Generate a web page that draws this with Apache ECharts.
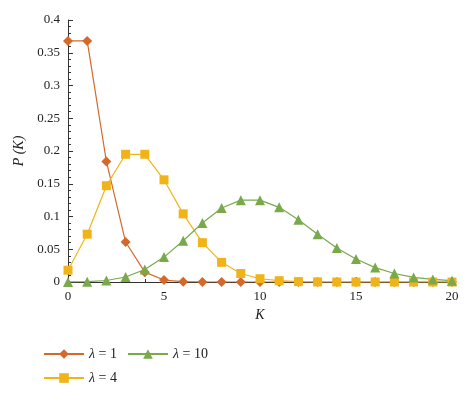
<!DOCTYPE html>
<html><head><meta charset="utf-8">
<script src="https://cdn.jsdelivr.net/npm/echarts@6/dist/echarts.min.js"></script>
<style>body{margin:0}#c{width:474px;height:413px}</style>
</head><body><div id="c"></div>
<script>
var kValues = [0,1,2,3,4,5,6,7,8,9,10,11,12,13,14,15,16,17,18,19,20];
var lambda1 = [0.368,0.368,0.184,0.061,0.015,0.003,0.0005,0.0001,0,0,0,0,0,0,0,0,0,0,0,0,0];
var lambda4 = [0.018,0.073,0.147,0.195,0.195,0.156,0.104,0.060,0.030,0.013,0.005,0.002,0.0006,0.0002,0,0,0,0,0,0,0];
var lambda10 = [0.00005,0.0005,0.0023,0.0076,0.019,0.038,0.063,0.090,0.113,0.125,0.125,0.114,0.095,0.073,0.052,0.035,0.022,0.013,0.007,0.004,0.002];
var seriesNames = ['λ1', 'λ4', 'λ10'];
var legendText = {'λ1': '{i|λ} = 1', 'λ4': '{i|λ} = 4', 'λ10': '{i|λ} = 10'};

function pairs(arr) { return arr.map(function (v, i) { return [kValues[i], v]; }); }
var font = 'Liberation Serif';
var chart = echarts.init(document.getElementById('c'));
chart.setOption({
    animation: false,
    textStyle: { fontFamily: font },
    grid: { left: 68, right: 22, top: 20, bottom: 131 },
    legend: {
        orient: 'vertical', left: 38, top: 342, itemGap: 10, itemWidth: 40, itemHeight: 12,
        data: seriesNames,
        formatter: function (n) { return legendText[n]; },
        textStyle: { fontSize: 14, color: '#222', fontFamily: font, rich: { i: { fontStyle: 'italic', fontSize: 14, fontFamily: font } } }
    },
    xAxis: {
        type: 'value', min: 0, max: 20, interval: 5,
        name: 'K', nameLocation: 'middle', nameGap: 22,
        nameTextStyle: { fontStyle: 'italic', fontSize: 14, color: '#222' },
        axisLine: { onZero: false, lineStyle: { color: '#333' } },
        axisTick: { inside: true, length: 5 },
        minorTick: { show: true, splitNumber: 5, length: 3 },
        axisLabel: { fontSize: 13, color: '#222' },
        splitLine: { show: false }
    },
    yAxis: {
        type: 'value', min: 0, max: 0.4, interval: 0.05,
        name: 'P (K)', nameLocation: 'middle', nameGap: 42, nameRotate: 90,
        nameTextStyle: { fontStyle: 'italic', fontSize: 14, color: '#222' },
        axisLine: { show: true, lineStyle: { color: '#333' } },
        axisTick: { show: true, inside: true, length: 5 },
        minorTick: { show: true, splitNumber: 5, length: 3 },
        axisLabel: { fontSize: 13, color: '#222', formatter: function (v) { return String(+v.toFixed(2)); } },
        splitLine: { show: false }
    },
    series: [
        { name: 'λ1', type: 'line', data: pairs(lambda1), symbol: 'diamond', symbolSize: 10,
          color: '#d4692a', lineStyle: { width: 1.2 } },
        { name: 'λ4', type: 'line', data: pairs(lambda4), symbol: 'rect', symbolSize: 9,
          color: '#f0b419', lineStyle: { width: 1.2 } },
        { name: 'λ10', type: 'line', data: pairs(lambda10), symbol: 'triangle', symbolSize: 10,
          color: '#78a94a', lineStyle: { width: 1.2 } }
    ]
});
</script></body></html>
